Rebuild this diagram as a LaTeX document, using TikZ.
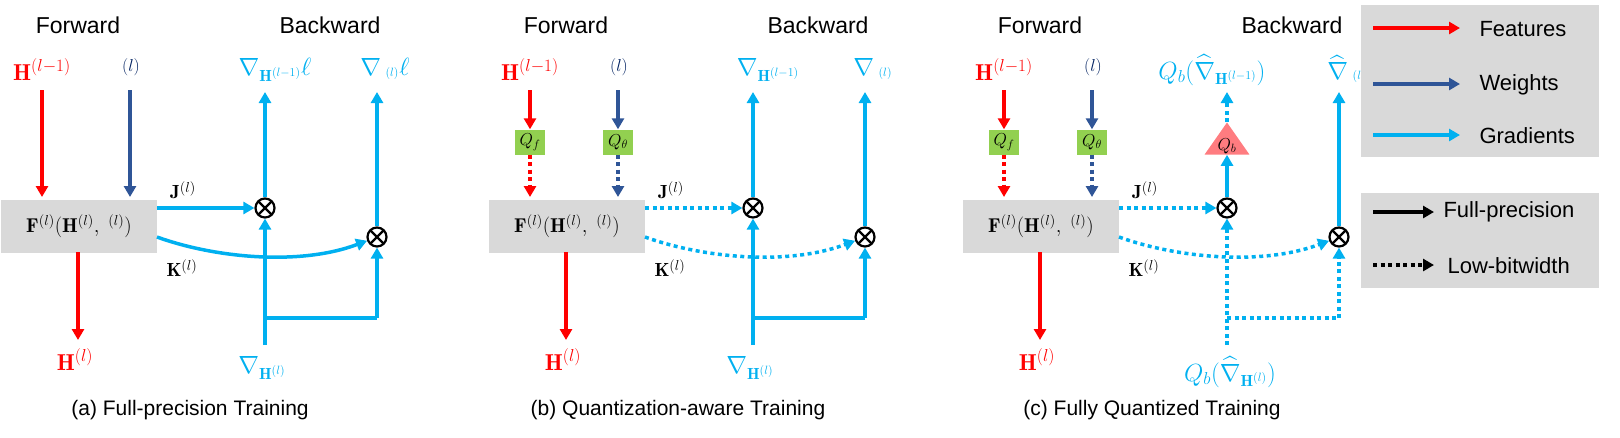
\documentclass[tikz,border=0pt]{standalone}
\usepackage{amsmath}
\usepackage{fontspec}
\newfontfamily\arialf{Liberation Sans}
\usetikzlibrary{arrows.meta,shapes.geometric}
\definecolor{feat}{HTML}{FF0000}
\definecolor{wgt}{HTML}{2F5597}
\definecolor{grad}{HTML}{00B0F0}
\definecolor{navy}{HTML}{002060}
\definecolor{qgreen}{HTML}{92D050}
\definecolor{qpink}{HTML}{FF7C80}
\definecolor{boxgray}{HTML}{D9D9D9}
\tikzset{
  arr/.style={line width=3.5pt,-{Triangle[length=11pt,width=12pt]}},
  fa/.style={arr,feat}, wa/.style={arr,wgt}, ga/.style={arr,grad},
  gl/.style={line width=3.5pt,grad},
  dot/.style={dash pattern=on 4pt off 3.5pt},
  hd/.style={font=\arialf\fontsize{23}{26}\selectfont},
  mth/.style={font=\fontsize{23}{26}\selectfont},
  lbl/.style={font=\fontsize{19}{20}\selectfont},
  fbox/.style={fill=boxgray,minimum width=156pt,minimum height=53pt,inner sep=0pt,font=\fontsize{20}{24}\selectfont},
  qb/.style={fill=qgreen,minimum width=30pt,minimum height=25pt,inner sep=0pt,font=\fontsize{17}{18}\selectfont},
  ot/.style={circle,draw,line width=2.2pt,minimum size=19pt,inner sep=0pt,fill=white,
    path picture={\draw[line width=2.2pt] (path picture bounding box.north west)--(path picture bounding box.south east)
      (path picture bounding box.north east)--(path picture bounding box.south west);}},
  capt/.style={font=\arialf\fontsize{21}{24}\selectfont},
  leg/.style={font=\arialf\fontsize{22}{26}\selectfont,anchor=west},
}
\begin{document}
\begin{tikzpicture}[x=1pt,y=-1pt]
\useasboundingbox (0,0) rectangle (1620,437);
% ===== panel (a)
\node[hd] (a-fw) at (78,25) {Forward};
\node[hd] (a-bw) at (330,25) {Backward};
\node[mth,text=feat] (a-hin) at (42,70) {$\mathbf{H}^{(l-1)}$};
\node[mth,text=navy] (a-th) at (128,70) {$\mathbf{\Theta}^{(l)}$};
\node[fbox] (a-f) at (79,226) {$\mathbf{F}^{(l)}(\mathbf{H}^{(l)},\mathbf{\Theta}^{(l)})$};
\node[mth,text=feat] (a-hout) at (75,360) {$\mathbf{H}^{(l)}$};
\node[ot] (a-o1) at (265,208) {};
\node[ot] (a-o2) at (377,237) {};
\node[mth,text=grad] (a-g1) at (275,70) {$\nabla_{\mathbf{H}^{(l-1)}}\ell$};
\node[mth,text=grad] (a-g2) at (385,70) {$\nabla_{\mathbf{\Theta}^{(l)}}\ell$};
\node[mth,text=grad] (a-gh) at (262,368) {$\nabla_{\mathbf{H}^{(l)}}$};
\coordinate (a-s) at (265,345);
\coordinate (a-br) at (265,318);
\coordinate (a-bc) at (377,318);
\draw[fa] (42,90) -- (42,197);
\draw[wa] (130,90) -- (130,197);
\draw[fa] (78,252) -- (78,340);
\draw[ga] (a-f.east |- a-o1) -- (a-o1);
\draw[ga] (157,237) .. controls (215,258) and (300,266) .. (a-o2);
\node[lbl] (a-j) at (183,190) {$\mathbf{J}^{(l)}$};
\node[lbl] (a-k) at (182,268) {$\mathbf{K}^{(l)}$};
\draw[ga] (a-s) -- (a-o1);
\draw[ga] (a-o1) -- (265,92);
\draw[gl] (a-br) -- (a-bc);
\draw[ga] (a-bc) -- (a-o2);
\draw[ga] (a-o2) -- (377,92);
\node[capt] (a-cap) at (190,410) {(a) Full-precision Training};
% ===== panel (b)
\begin{scope}[xshift=488pt]
\node[hd] (b-fw) at (78,25) {Forward};
\node[hd] (b-bw) at (330,25) {Backward};
\node[mth,text=feat] (b-hin) at (42,70) {$\mathbf{H}^{(l-1)}$};
\node[mth,text=navy] (b-th) at (128,70) {$\mathbf{\Theta}^{(l)}$};
\node[fbox] (b-f) at (79,226) {$\mathbf{F}^{(l)}(\mathbf{H}^{(l)},\mathbf{\Theta}^{(l)})$};
\node[mth,text=feat] (b-hout) at (75,360) {$\mathbf{H}^{(l)}$};
\node[qb] (b-qf) at (42,142) {$Q_f$};
\node[qb] (b-qt) at (130,142) {$Q_\theta$};
\node[ot] (b-o1) at (265,208) {};
\node[ot] (b-o2) at (377,237) {};
\node[mth,text=grad] (b-g1) at (280,70) {$\nabla_{\mathbf{H}^{(l-1)}}$};
\node[mth,text=grad] (b-g2) at (385,70) {$\nabla_{\mathbf{\Theta}^{(l)}}$};
\node[mth,text=grad] (b-gh) at (262,368) {$\nabla_{\mathbf{H}^{(l)}}$};
\coordinate (b-s) at (265,345);
\coordinate (b-br) at (265,318);
\coordinate (b-bc) at (377,318);
\draw[fa] (42,90) -- (b-qf.north);
\draw[wa] (130,90) -- (b-qt.north);
\draw[fa,dot] (b-qf.south) -- (42,197);
\draw[wa,dot] (b-qt.south) -- (130,197);
\draw[fa] (78,252) -- (78,340);
\draw[ga,dot] (b-f.east |- b-o1) -- (b-o1);
\draw[ga,dot] (157,237) .. controls (215,258) and (300,266) .. (b-o2);
\node[lbl] (b-j) at (183,190) {$\mathbf{J}^{(l)}$};
\node[lbl] (b-k) at (182,268) {$\mathbf{K}^{(l)}$};
\draw[ga] (b-s) -- (b-o1);
\draw[ga] (b-o1) -- (265,92);
\draw[gl] (b-br) -- (b-bc);
\draw[ga] (b-bc) -- (b-o2);
\draw[ga] (b-o2) -- (377,92);
\node[capt] (b-cap) at (190,410) {(b) Quantization-aware Training};
\end{scope}
% ===== panel (c)
\begin{scope}[xshift=962pt]
\node[hd] (c-fw) at (78,25) {Forward};
\node[hd] (c-bw) at (330,25) {Backward};
\node[mth,text=feat] (c-hin) at (42,70) {$\mathbf{H}^{(l-1)}$};
\node[mth,text=navy] (c-th) at (128,70) {$\mathbf{\Theta}^{(l)}$};
\node[fbox] (c-f) at (79,226) {$\mathbf{F}^{(l)}(\mathbf{H}^{(l)},\mathbf{\Theta}^{(l)})$};
\node[mth,text=feat] (c-hout) at (75,360) {$\mathbf{H}^{(l)}$};
\node[qb] (c-qf) at (42,142) {$Q_f$};
\node[qb] (c-qt) at (130,142) {$Q_\theta$};
\node[ot] (c-o1) at (265,208) {};
\node[ot] (c-o2) at (377,237) {};
\node[isosceles triangle,shape border rotate=90,isosceles triangle apex angle=70,fill=qpink,inner sep=1pt,minimum height=32pt,font=\fontsize{17}{18}\selectfont] (c-qb) at (265,146) {$Q_b$};
\node[mth,text=grad] (c-g1) at (250,70) {$Q_b(\widehat{\nabla}_{\mathbf{H}^{(l-1)}})$};
\node[mth,text=grad] (c-g2) at (385,70) {$\widehat{\nabla}_{\mathbf{\Theta}^{(l)}}$};
\node[mth,text=grad] (c-gh) at (268,372) {$Q_b(\widehat{\nabla}_{\mathbf{H}^{(l)}})$};
\coordinate (c-s) at (265,345);
\coordinate (c-br) at (265,318);
\coordinate (c-bc) at (377,318);
\draw[fa] (42,90) -- (c-qf.north);
\draw[wa] (130,90) -- (c-qt.north);
\draw[fa,dot] (c-qf.south) -- (42,197);
\draw[wa,dot] (c-qt.south) -- (130,197);
\draw[fa] (78,252) -- (78,340);
\draw[ga,dot] (c-f.east |- c-o1) -- (c-o1);
\draw[ga,dot] (157,237) .. controls (215,258) and (300,266) .. (c-o2);
\node[lbl] (c-j) at (183,190) {$\mathbf{J}^{(l)}$};
\node[lbl] (c-k) at (182,268) {$\mathbf{K}^{(l)}$};
\draw[ga,dot] (c-s) -- (c-o1);
\draw[ga] (c-o1) -- (c-qb.south);
\draw[ga,dot] (c-qb.north) -- (265,92);
\draw[gl,dot] (c-br) -- (c-bc);
\draw[ga,dot] (c-bc) -- (c-o2);
\draw[ga] (c-o2) -- (377,92);
\node[capt] (c-cap) at (190,410) {(c) Fully Quantized Training};
\end{scope}
% ===== legend
\node[fill=boxgray,minimum width=238pt,minimum height=152pt,inner sep=0pt] (lg1) at (1480,81) {};
\node[fill=boxgray,minimum width=238pt,minimum height=95pt,inner sep=0pt] (lg2) at (1480,240) {};
\coordinate (l1a) at (1373,28); \coordinate (l1b) at (1460,28);
\coordinate (l2a) at (1373,84); \coordinate (l2b) at (1460,84);
\coordinate (l3a) at (1373,135); \coordinate (l3b) at (1460,135);
\coordinate (l4a) at (1373,212); \coordinate (l4b) at (1434,212);
\coordinate (l5a) at (1373,265); \coordinate (l5b) at (1434,265);
\draw[fa] (l1a) -- (l1b);
\draw[wa] (l2a) -- (l2b);
\draw[ga] (l3a) -- (l3b);
\draw[arr,black] (l4a) -- (l4b);
\draw[arr,black,dot] (l5a) -- (l5b);
\node[leg] (lt1) at (1476,29) {Features};
\node[leg] (lt2) at (1476,85) {Weights};
\node[leg] (lt3) at (1476,136) {Gradients};
\node[leg] (lt4) at (1440,212) {Full-precision};
\node[leg] (lt5) at (1444,266) {Low-bitwidth};
\end{tikzpicture}
\end{document}
